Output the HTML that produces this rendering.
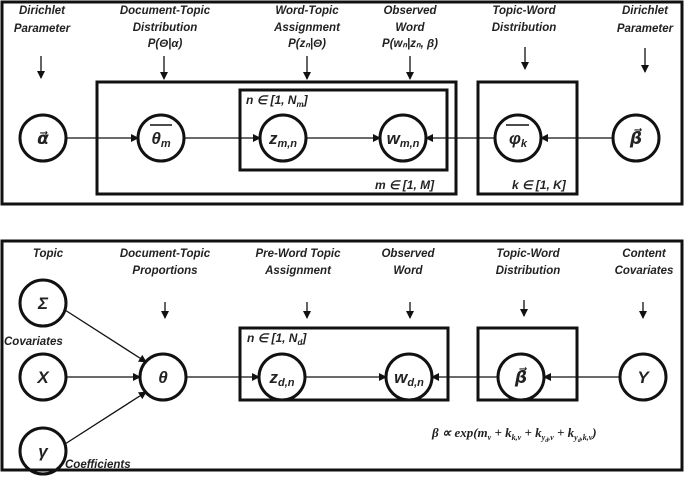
<!DOCTYPE html>
<html><head><meta charset="utf-8"><style>
html,body{margin:0;padding:0;background:#fff;}
svg{display:block;}
text{font-family:"Liberation Sans",sans-serif;font-style:italic;font-weight:bold;fill:#222;}
.l{font-size:11.5px;text-anchor:middle;}
.m{font-family:"Liberation Serif",serif;font-size:17px;text-anchor:middle;}
</style></head><body>
<svg width="685" height="481" viewBox="0 0 685 481" xmlns="http://www.w3.org/2000/svg">
<defs>
<marker id="a" markerWidth="8" markerHeight="8" refX="7" refY="4" orient="auto" markerUnits="userSpaceOnUse"><path d="M0,0 L8,4 L0,8 z" fill="#111"/></marker>
</defs>
<g fill="none" stroke="#111">
<rect x="2" y="2" width="680" height="202" stroke-width="3"/>
<rect x="97" y="82" width="359" height="112" stroke-width="3"/>
<rect x="240" y="90" width="207" height="80" stroke-width="3"/>
<rect x="478" y="82" width="99" height="112" stroke-width="3"/>
<rect x="2" y="241" width="680" height="229" stroke-width="3"/>
<rect x="240" y="328" width="208" height="72" stroke-width="3"/>
<rect x="478" y="328" width="99" height="72" stroke-width="3"/>
<g stroke-width="3">
<circle cx="43" cy="138" r="23"/><circle cx="161" cy="138" r="23"/><circle cx="283" cy="138" r="23"/>
<circle cx="403" cy="138" r="23"/><circle cx="518" cy="138" r="23"/><circle cx="636" cy="138" r="23"/>
<circle cx="43" cy="303" r="23"/><circle cx="43" cy="377" r="23"/><circle cx="43" cy="451" r="23"/>
<circle cx="163" cy="377" r="23"/><circle cx="282" cy="377" r="23"/><circle cx="409" cy="377" r="23"/>
<circle cx="521" cy="377" r="23"/><circle cx="643" cy="377" r="23"/>
</g>
<g stroke-width="1.3" marker-end="url(#a)">
<line x1="66" y1="138" x2="138" y2="138"/><line x1="184" y1="138" x2="260" y2="138"/>
<line x1="306" y1="138" x2="380" y2="138"/><line x1="495" y1="138" x2="426" y2="138"/>
<line x1="613" y1="138" x2="541" y2="138"/>
<line x1="65" y1="310" x2="146" y2="362"/><line x1="66" y1="377" x2="140" y2="377"/>
<line x1="65" y1="444" x2="146" y2="392"/>
<line x1="186" y1="377" x2="259" y2="377"/><line x1="305" y1="377" x2="386" y2="377"/>
<line x1="498" y1="377" x2="432" y2="377"/><line x1="620" y1="377" x2="544" y2="377"/>
<line x1="41" y1="56" x2="41" y2="78"/><line x1="164" y1="56" x2="164" y2="79"/>
<line x1="307" y1="56" x2="307" y2="79"/><line x1="410" y1="56" x2="410" y2="79"/>
<line x1="525" y1="47" x2="525" y2="69"/><line x1="645" y1="48" x2="645" y2="72"/>
<line x1="165" y1="302" x2="165" y2="318"/><line x1="307" y1="302" x2="307" y2="318"/>
<line x1="410" y1="302" x2="410" y2="318"/><line x1="524" y1="300" x2="524" y2="316"/>
<line x1="643" y1="302" x2="643" y2="318"/>
</g>
</g>
<g class="l">
<text x="42" y="14">Dirichlet</text><text x="42" y="32">Parameter</text>
<text x="165" y="14">Document-Topic</text><text x="165" y="31">Distribution</text><text x="165" y="47">P(Θ|α)</text>
<text x="307" y="14">Word-Topic</text><text x="307" y="31">Assignment</text><text x="307" y="47">P(zₙ|Θ)</text>
<text x="410" y="14">Observed</text><text x="410" y="31">Word</text><text x="410" y="47">P(wₙ|zₙ, β)</text>
<text x="524" y="14">Topic-Word</text><text x="524" y="31">Distribution</text>
<text x="645" y="14">Dirichlet</text><text x="645" y="32">Parameter</text>
<text x="48" y="257">Topic</text>
<text x="165" y="257">Document-Topic</text><text x="165" y="274">Proportions</text>
<text x="298" y="257">Pre-Word Topic</text><text x="298" y="274">Assignment</text>
<text x="408" y="257">Observed</text><text x="408" y="274">Word</text>
<text x="528" y="257">Topic-Word</text><text x="528" y="274">Distribution</text>
<text x="644" y="257">Content</text><text x="644" y="274">Covariates</text>
</g>
<text x="4" y="345" style="font-size:11.5px">Covariates</text>
<text x="65" y="468" style="font-size:11.5px">Coefficients</text>
<text x="246" y="104" style="font-size:12px">n ∈ [1, N<tspan font-size="8" dy="3">m</tspan><tspan dy="-3">]</tspan></text>
<text x="375" y="189" style="font-size:12px">m ∈ [1, M]</text>
<text x="512" y="189" style="font-size:12px">k ∈ [1, K]</text>
<text x="247" y="342" style="font-size:12px">n ∈ [1, N<tspan font-size="8" dy="3">d</tspan><tspan dy="-3">]</tspan></text>
<g class="m">
<text x="43" y="144">α⃗</text><text x="161" y="144">θ<tspan font-size="11" dy="3">m</tspan></text>
<text x="283" y="144">z<tspan font-size="11" dy="3">m,n</tspan></text><text x="403" y="144">w<tspan font-size="11" dy="3">m,n</tspan></text>
<text x="518" y="144">φ<tspan font-size="11" dy="3">k</tspan></text><text x="636" y="144">β⃗</text>
<text x="43" y="309">Σ</text><text x="43" y="383">X</text><text x="43" y="457">γ</text>
<text x="163" y="383">θ</text>
<text x="282" y="383">z<tspan font-size="11" dy="3">d,n</tspan></text><text x="409" y="383">w<tspan font-size="11" dy="3">d,n</tspan></text>
<text x="521" y="383">β⃗</text><text x="643" y="383">Y</text>
</g>
<line x1="150" y1="125" x2="172" y2="125" stroke="#111" stroke-width="1.5"/>
<line x1="506" y1="125" x2="529" y2="125" stroke="#111" stroke-width="1.5"/>
<text x="432" y="437" style="font-family:'Liberation Serif',serif;font-size:13px;">β ∝ exp(m<tspan font-size="8" dy="3">v</tspan><tspan dy="-3"> + k</tspan><tspan font-size="8" dy="3">k,v</tspan><tspan dy="-3"> + k</tspan><tspan font-size="8" dy="3">y</tspan><tspan font-size="6" dy="2">d</tspan><tspan font-size="8" dy="-2">,v</tspan><tspan dy="-3"> + k</tspan><tspan font-size="8" dy="3">y</tspan><tspan font-size="6" dy="2">d</tspan><tspan font-size="8" dy="-2">,k,v</tspan><tspan dy="-3">)</tspan></text>
</svg>
</body></html>
